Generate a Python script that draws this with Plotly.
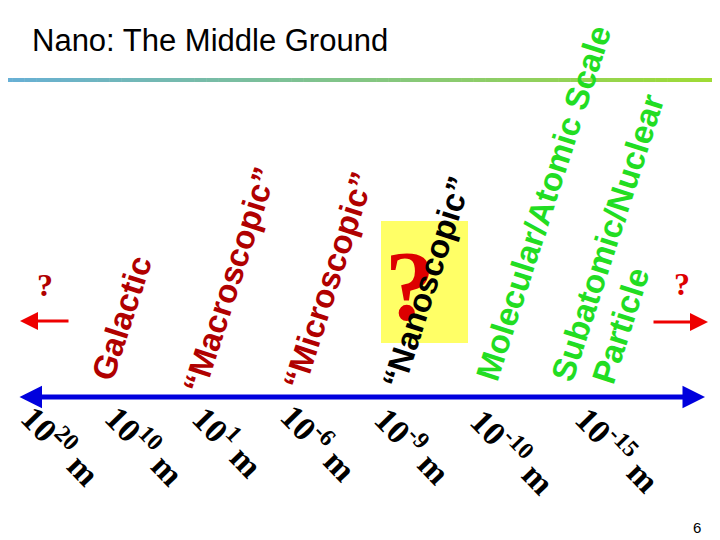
import plotly.graph_objects as go

title = "Nano: The Middle Ground"
top_labels = ["Galactic", "“Macroscopic”", "“Microscopic”", "“Nanoscopic”",
              "Molecular/Atomic Scale", "Subatomic/Nuclear", "Particle"]
top_colors = ["#b00000", "#b00000", "#b00000", "#000000", "#22dd22", "#22dd22", "#22dd22"]
top_pos = [(121, 318), (229, 280), (328, 280), (426, 282), (543, 203), (607, 238), (620, 326)]
scale_labels = ["10<sup>20</sup> m", "10<sup>10</sup> m", "10<sup>1</sup> m", "10<sup>-6</sup> m",
                "10<sup>-9</sup> m", "10<sup>-10</sup> m", "10<sup>-15</sup> m"]
scale_pos = [(62, 444), (146, 444), (229, 440), (320, 441), (414, 444), (514, 450), (619, 448)]

fig = go.Figure()
fig.add_trace(go.Scatter(x=[0, 720], y=[0, 540], mode="markers", marker=dict(opacity=0), hoverinfo="skip"))

shapes = []
n = 60
c0 = (104, 176, 214); c1 = (160, 220, 50)
for i in range(n):
    t = i / (n - 1)
    col = "rgb(%d,%d,%d)" % tuple(int(a + (b - a) * t) for a, b in zip(c0, c1))
    shapes.append(dict(type="line", x0=728 * i / n, x1=728 * (i + 1) / n + 0.5, y0=80, y1=80,
                       line=dict(color=col, width=4), layer="below"))
shapes.append(dict(type="rect", x0=381, x1=468, y0=221, y1=343, fillcolor="#ffff66",
                   line=dict(width=0), layer="below"))

ann = []
ann.append(dict(x=30, y=40, text=title, showarrow=False, xanchor="left", yanchor="middle",
                font=dict(family="Liberation Sans", size=31, color="black")))
ann.append(dict(x=410, y=285, text="<b>?</b>", showarrow=False,
                font=dict(family="Liberation Serif", size=100, color="#dd0000")))
for t, c, (x, y) in zip(top_labels, top_colors, top_pos):
    ann.append(dict(x=x, y=y, text="<b>" + t + "</b>", showarrow=False, textangle=-72,
                    font=dict(family="Liberation Sans", size=33, color=c)))
for t, (x, y) in zip(scale_labels, scale_pos):
    ann.append(dict(x=x, y=y, text="<b>" + t + "</b>", showarrow=False, textangle=46,
                    font=dict(family="Liberation Serif", size=34, color="black")))
ann.append(dict(x=705, y=397, ax=18, ay=397, axref="x", ayref="y", xref="x", yref="y",
                showarrow=True, arrowhead=2, startarrowhead=2, arrowside="end+start",
                arrowwidth=5, arrowsize=0.9, startarrowsize=0.9, arrowcolor="#0000dd", text=""))
ann.append(dict(x=20, y=321, ax=70, ay=321, axref="x", ayref="y", showarrow=True, arrowhead=2,
                arrowwidth=3, arrowsize=1.2, arrowcolor="#ee0000", text=""))
ann.append(dict(x=708, y=322, ax=652, ay=322, axref="x", ayref="y", showarrow=True, arrowhead=2,
                arrowwidth=3, arrowsize=1.2, arrowcolor="#ee0000", text=""))
ann.append(dict(x=45, y=285, text="<b>?</b>", showarrow=False,
                font=dict(family="Liberation Serif", size=32, color="#b00000")))
ann.append(dict(x=682, y=284, text="<b>?</b>", showarrow=False,
                font=dict(family="Liberation Serif", size=32, color="#dd0000")))
ann.append(dict(x=697, y=527, text="6", showarrow=False,
                font=dict(family="Liberation Sans", size=15, color="black")))

fig.update_layout(width=720, height=540, margin=dict(l=0, r=0, t=0, b=0),
                  plot_bgcolor="white", paper_bgcolor="white", showlegend=False,
                  xaxis=dict(range=[8, 728], visible=False, fixedrange=True),
                  yaxis=dict(range=[548, 8], visible=False, fixedrange=True),
                  shapes=shapes, annotations=ann)
fig.write_html("out.html")
